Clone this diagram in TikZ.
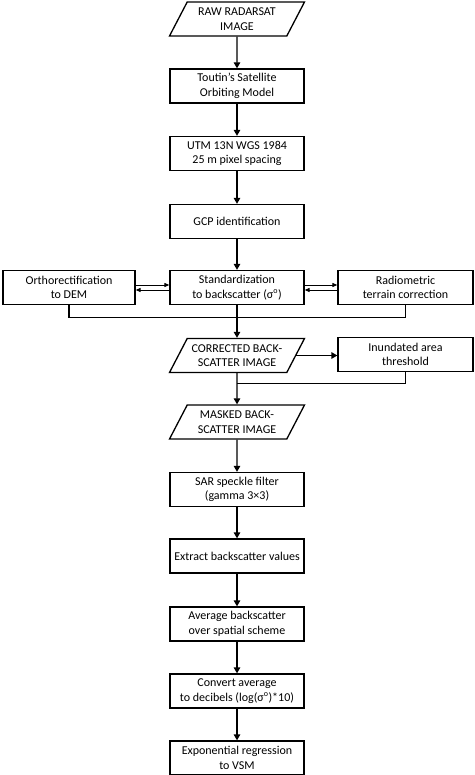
\documentclass[tikz,border=0pt]{standalone}
\usepackage{fontspec}
\setmainfont{Carlito}
\usetikzlibrary{positioning,shapes.geometric,arrows.meta,calc}

\begin{document}
\begin{tikzpicture}[x=1pt,y=-1pt,
    process/.style={rectangle,draw,line width=1.3pt,minimum width=134pt,minimum height=34pt,align=center,font=\fontsize{12}{14.5}\selectfont,inner sep=1pt},
    dataio/.style={trapezium,trapezium left angle=54,trapezium right angle=126,trapezium stretches body,draw,line width=1.3pt,minimum width=135pt,minimum height=34pt,align=center,font=\fontsize{12}{14.5}\selectfont,inner sep=1pt},
    arrow/.style={-{Triangle[length=6pt,width=6.5pt]},line width=1.3pt},
    smallarrow/.style={-{Triangle[length=5pt,width=4pt]},line width=1pt}
]
\useasboundingbox (0,0) rectangle (474,775);

% Input image and georeferencing
\node[dataio] (raw) at (237,19) {RAW RADARSAT\\IMAGE};
\node[process] (toutin) at (237,86) {Toutin's Satellite\\Orbiting Model};
\node[process] (utm) at (237,153.5) {UTM 13N WGS 1984\\25 m pixel spacing};
\node[process] (gcp) at (237,221.5) {GCP identification};

\draw[arrow] (raw) -- (toutin);
\draw[arrow] (toutin) -- (utm);
\draw[arrow] (utm) -- (gcp);

% Calibration row
\node[process] (standard) at (237,287.5) {Standardization\\to backscatter (σ\textsuperscript{o})};
\node[process,minimum width=132pt] (ortho) at (69,287.5) {Orthorectification\\to DEM};
\node[process,minimum width=135pt] (radio) at (405.5,287.5) {Radiometric\\terrain correction};

\draw[arrow] (gcp) -- (standard);
\draw[smallarrow] ([yshift=2.5pt]ortho.east) -- ([yshift=2.5pt]standard.west);
\draw[smallarrow] ([yshift=-2.5pt]standard.west) -- ([yshift=-2.5pt]ortho.east);
\draw[smallarrow] ([yshift=2.5pt]standard.east) -- ([yshift=2.5pt]radio.west);
\draw[smallarrow] ([yshift=-2.5pt]radio.west) -- ([yshift=-2.5pt]standard.east);

% Merge line
\coordinate (bus) at ($(standard.south)+(0,12)$);
\draw[line width=1.3pt] (ortho.south) |- (bus) -| (radio.south);

% Masking
\node[dataio] (corrected) at (237,355.5) {CORRECTED BACK-\\SCATTER IMAGE};
\node[process,minimum width=135pt] (inundated) at (405.5,354.5) {Inundated area\\threshold};
\node[dataio] (masked) at (237,422) {MASKED BACK-\\SCATTER IMAGE};

\draw[arrow] (standard) -- (corrected);
\draw[arrow] (corrected.east) -- (corrected.east -| inundated.west);
\draw[arrow] (corrected) -- (masked);
\coordinate (join) at ($(corrected.south)+(0,10)$);
\draw[line width=1.3pt] (inundated.south) |- (join);

% Backscatter processing
\node[process] (speckle) at (237,489.5) {SAR speckle filter\\(gamma 3×3)};
\node[process] (extract) at (237,556) {Extract backscatter values};
\node[process] (average) at (237,624) {Average backscatter\\over spatial scheme};
\node[process] (decibel) at (237,691) {Convert average\\to decibels (log(σ\textsuperscript{o})*10)};
\node[process] (regress) at (237,758) {Exponential regression\\to VSM};

\draw[arrow] (masked) -- (speckle);
\draw[arrow] (speckle) -- (extract);
\draw[arrow] (extract) -- (average);
\draw[arrow] (average) -- (decibel);
\draw[arrow] (decibel) -- (regress);

\end{tikzpicture}
\end{document}
